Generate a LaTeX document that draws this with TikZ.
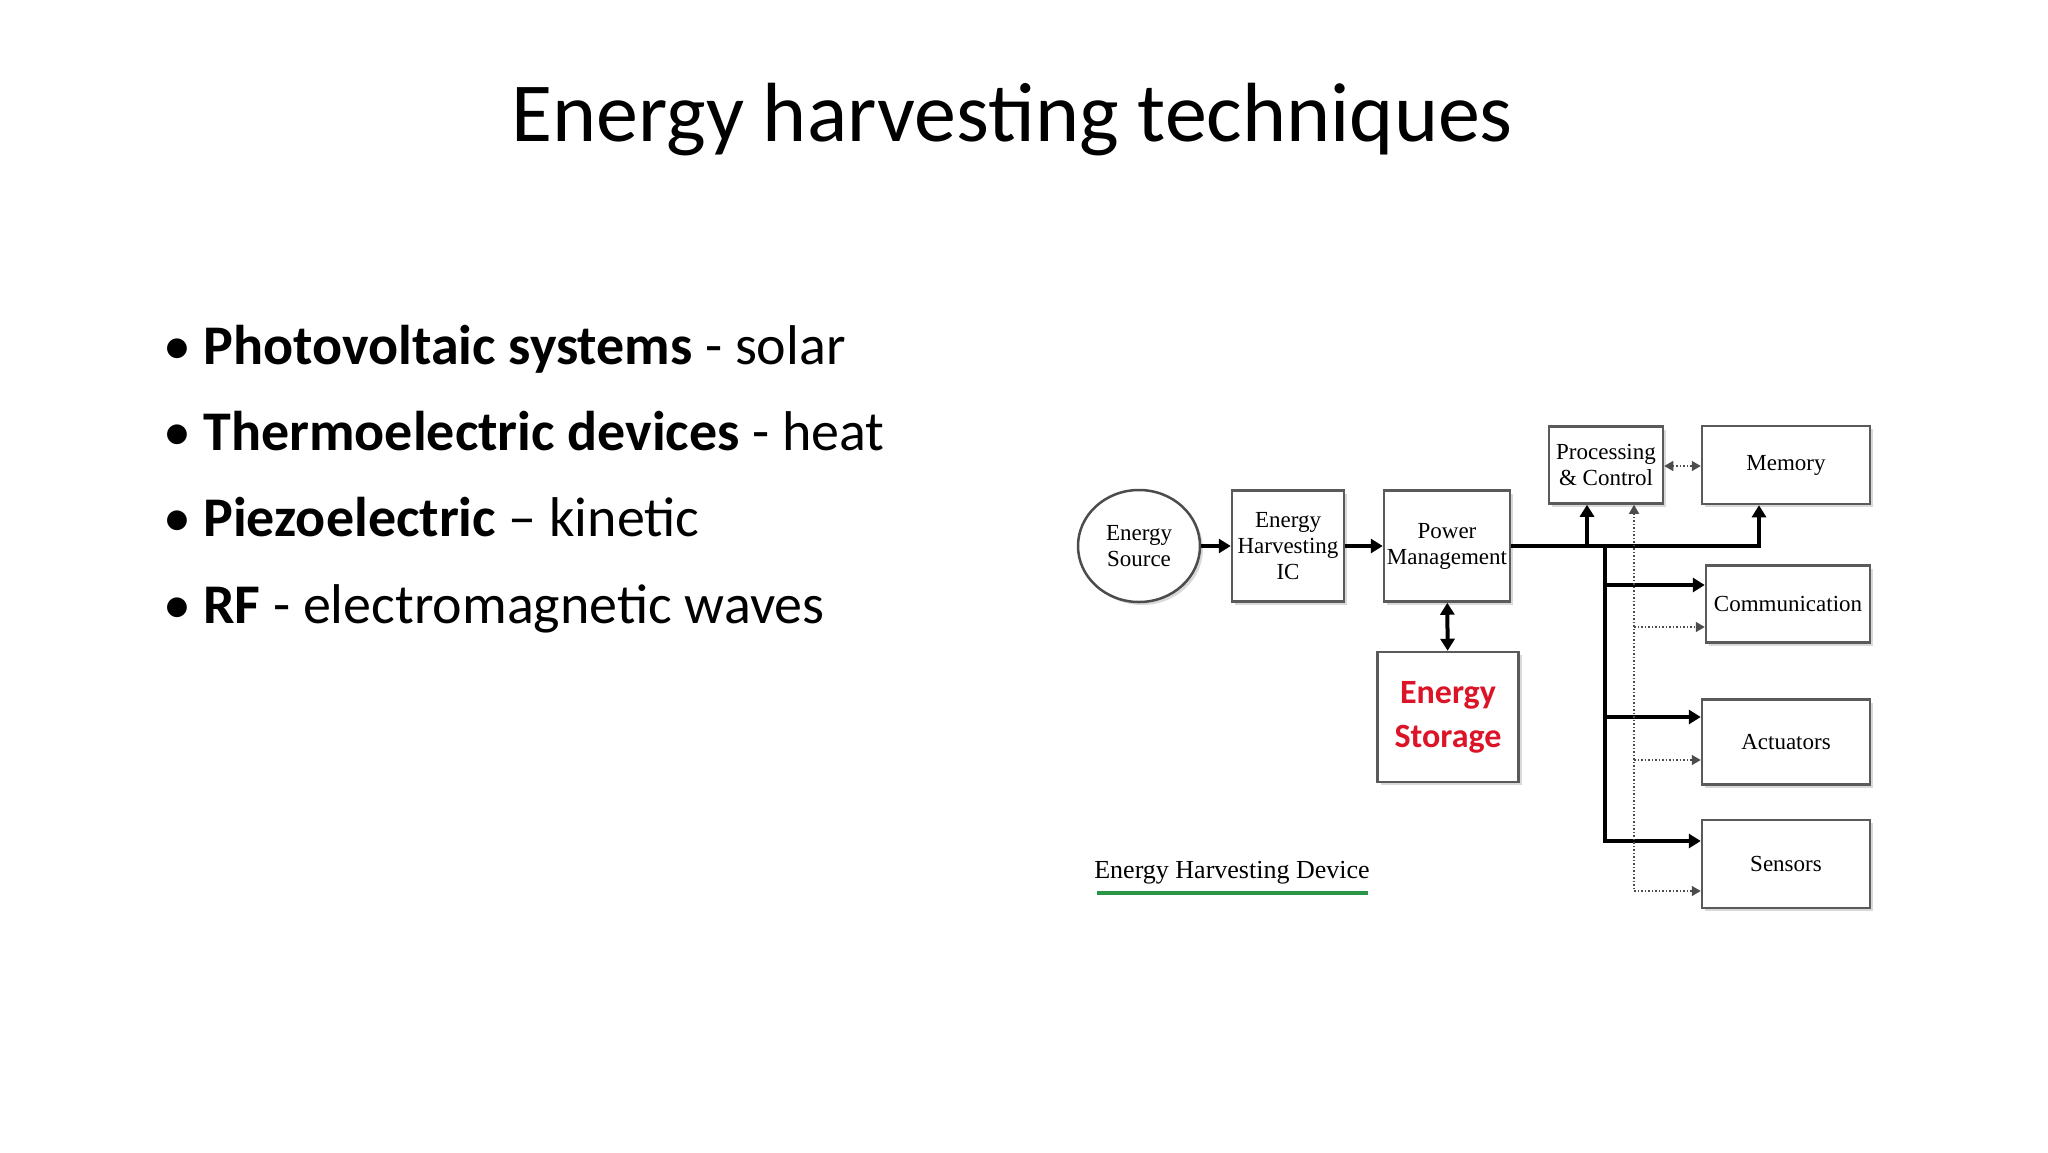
\documentclass[tikz,border=0pt]{standalone}
\usepackage{fontspec}
\setmainfont{Carlito}
\newfontfamily\serifd{Liberation Serif}
\usetikzlibrary{arrows.meta,shadows,shapes.geometric}
\definecolor{boxgray}{RGB}{90,90,90}
\definecolor{ehgreen}{RGB}{40,150,70}
\definecolor{stred}{RGB}{220,20,40}
\tikzset{
  blk/.style={draw=boxgray,line width=2.5pt,fill=white,drop shadow={shadow xshift=3pt,shadow yshift=-3pt,opacity=0.3},align=center,font=\serifd\fontsize{23}{26}\selectfont,inner sep=0pt},
  bus/.style={line width=4pt,-{Triangle[length=12pt,width=14pt]}},
  dbus/.style={line width=1.5pt,dotted,-{Triangle[length=9pt,width=10pt]},draw=black!70},
}
\begin{document}
\begin{tikzpicture}[x=1pt,y=-1pt]
\useasboundingbox (0,0) rectangle (2048,1152);
\node[font=\fontsize{84}{96}\selectfont] (title) at (1012,120) {Energy harvesting techniques};
\foreach \y/\b/\t [count=\i] in {346/Photovoltaic systems/- solar,432/Thermoelectric devices/- heat,518/Piezoelectric/– kinetic,605/RF/- electromagnetic waves}{
  \node[font=\fontsize{56}{64}\selectfont,anchor=base west] (b\i) at (160,\y+18) {•\hspace{12pt}\textbf{\b} \t};
}
% diagram
\node[blk,ellipse,minimum width=122pt,minimum height=112pt,draw=black!70] (src) at (1139,546) {Energy\\Source};
\node[blk,minimum width=112pt,minimum height=111pt] (ic) at (1288,546) {Energy\\Harvesting\\IC};
\node[blk,minimum width=126pt,minimum height=111pt] (pm) at (1447,546) {Power\\Management};
\node[blk,minimum width=141pt,minimum height=130pt,text=stred,font=\bfseries\fontsize{34}{44}\selectfont] (st) at (1448,717) {Energy\\Storage};
\node[blk,minimum width=114pt,minimum height=77pt] (pc) at (1606,465) {Processing\\\& Control};
\node[blk,minimum width=168pt,minimum height=78pt] (mem) at (1786,465) {Memory};
\node[blk,minimum width=164pt,minimum height=77pt] (com) at (1788,604) {Communication};
\node[blk,minimum width=168pt,minimum height=85pt] (act) at (1786,742) {Actuators};
\node[blk,minimum width=168pt,minimum height=88pt] (sen) at (1786,864) {Sensors};
\node[font=\serifd\fontsize{26}{30}\selectfont,anchor=base] (lbl) at (1232,878) {Energy Harvesting Device};
\draw[ehgreen,line width=4pt] (lbl.south west)++(6,6) -- ++(271,0);

\draw[bus] (src) -- (ic);
\draw[bus] (ic) -- (pm);
\draw[line width=4pt,{Triangle[length=12pt,width=14pt]}-{Triangle[length=12pt,width=14pt]}] (pm) -- (st);
\coordinate (t) at (1605,546);
\draw[line width=4pt] (pm.east |- t) -- (1759,546);
\draw[bus] (1587,546) -- (pc.south -| 1587,0);
\draw[bus] (1759,548) -- (mem.south -| 1759,0);
\draw[line width=4pt] (t) -- (1605,841);
\draw[bus] (1603,585) -- (com.west |- 0,585);
\draw[bus] (1603,717) -- (act.west |- 0,717);
\draw[bus] (1603,841) -- (sen.west |- 0,841);
\draw[line width=1.5pt,dotted,draw=black!70,{Triangle[length=9pt,width=10pt]}-] (pc.south -| 1634,0) -- (1634,891);
\draw[dbus] (1634,627) -- (com.west |- 0,627);
\draw[dbus] (1634,760) -- (act.west |- 0,760);
\draw[dbus] (1634,891) -- (sen.west |- 0,891);
\draw[line width=1.5pt,dotted,draw=black!70,{Triangle[length=9pt,width=10pt]}-{Triangle[length=9pt,width=10pt]}] (pc.east |- 0,466) -- (mem.west |- 0,466);
\end{tikzpicture}
\end{document}
